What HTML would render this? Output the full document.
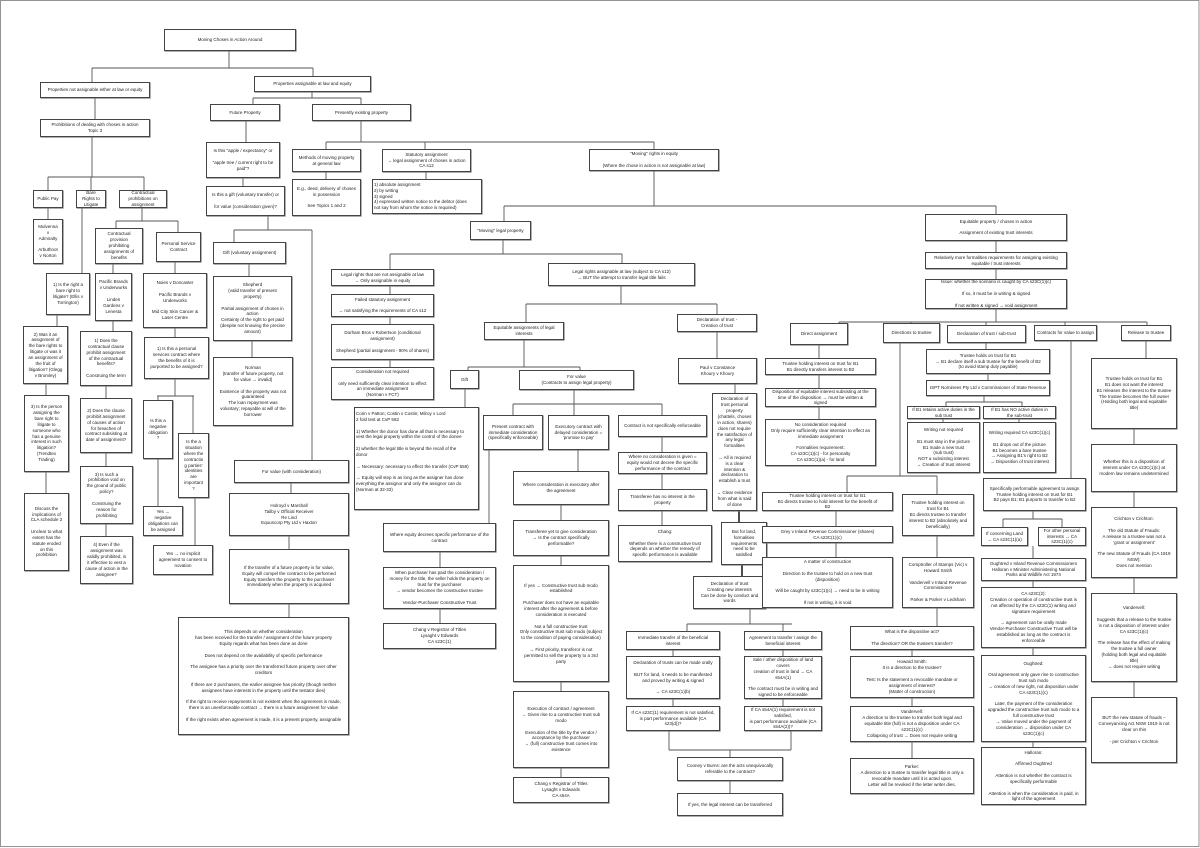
<!DOCTYPE html>
<html><head><meta charset="utf-8"><style>
html,body{margin:0;padding:0;background:#fff}
#c{position:relative;width:1200px;height:848px;overflow:hidden;font-family:"Liberation Sans",sans-serif;background:#fff}
svg{position:absolute;left:0;top:0}
.b{position:absolute;border:1px solid #444;box-sizing:border-box;display:flex;align-items:center;justify-content:center;text-align:center;font-size:4.5px;line-height:1.3;padding:1px;overflow:hidden;background:#fff;color:#222;box-shadow:0.6px 0.6px 0 #777}
</style></head><body><div id="c">
<svg width="1200" height="848" stroke="#555" stroke-width="0.9" fill="none">
<rect x="0.5" y="0.5" width="1198.5" height="846" stroke="#888"/>
<path d="M229 51V68M92 68H313M92 68V82M313 68V76M95 98V119M92 137V177M48 177H144M48 177V190M91 177V190M144 177V190M48 208V219M82 208V273M57 315V326M46 384V395M46 472V493M142 208V221M116 221H178M116 221V228M178 221V232M113 264V273M113 321V331M106 386V398M106 453V466M106 524V536M175 262V273M175 328V337M175 379V396M157 396H194M158 396V400M193 396V433M158 459V506M195 498V545"/>
<path d="M312 92V98M253 98H361M253 98V104M361 98V104M246 121V142M243 178V186M268 216V230M234 230H312M234 230V242M312 230V460M249 264V276M252 341V357M291 483V493M289 536V549M289 604V617"/>
<path d="M361 121V142M326 142H654M326 142V149M425 142V149M654 142V149M326 172V179M426 172V179M654 171V206M504 206H996M504 206V221M996 206V214M996 241V252M996 269V279M503 240V254M390 254H622M622 254V263M390 254V367M621 286V304M526 304H717M526 304V322M717 304V314M524 340V367M468 367H580M468 367V370M580 367V370M465 389V407M574 390V415M513 404H662M513 404V415M662 404V415M489 450V523M440 552V567M440 609V623M578 450V471M561 505V520M561 556V565M561 682V691M561 768V777M662 437V452M662 474V489M662 511V525M717 332V358M735 384V393M750 609V624M687 624H792M687 624V631M783 624V631M673 650V656M673 699V706M783 650V656M783 699V706M669 731V750M791 731V750M669 750H791M730 750V757M730 781V793"/>
<path d="M739 511V522M742 565V576" stroke-width="1.6" stroke="#222"/>
<path d="M996 309V322M839 322H1147M839 322V323M911 322V323M986 322V325M1065 322V325M1147 322V325M819 345V358M819 375V388M819 407V419M900 343V476M847 476H937M847 476V492M937 476V494M836 511V526M836 543V557M937 536V557M937 608V626M912 650V656M912 698V706M912 742V758M986 343V349M988 374V380M984 396V402M946 402H1022M946 402V406M1022 402V406M943 418V422M1019 418V422M1071 341V478M1033 511V519M1003 519H1062M1003 519V527M1062 519V527M1033 546V558M1033 581V587M1033 648V655M1033 742V747M1146 341V358M1134 429V444M1134 492V507M1134 578V593M1134 682V697"/>
</svg>

<div class="b" style="left:164px;top:29px;width:132px;height:22px">Moving Choses in Action Around</div>
<div class="b" style="left:40px;top:82px;width:110px;height:16px">Properties not assignable either at law or equity</div>
<div class="b" style="left:254px;top:76px;width:117px;height:16px">Properties assignable at law and equity</div>
<div class="b" style="left:40px;top:119px;width:110px;height:18px">Prohibitions of dealing with choses in action<br>Topic 3</div>
<div class="b" style="left:210px;top:104px;width:70px;height:17px">Future Property</div>
<div class="b" style="left:312px;top:104px;width:99px;height:17px">Presently existing property</div>
<div class="b" style="left:33px;top:190px;width:30px;height:18px">Public Pay</div>
<div class="b" style="left:76px;top:190px;width:30px;height:18px">Bare<br>Rights to<br>Litigate</div>
<div class="b" style="left:119px;top:190px;width:48px;height:18px">Contractual<br>prohibitions on<br>assignment</div>
<div class="b" style="left:33px;top:219px;width:30px;height:45px">Mulvenna<br>v<br>Admiralty<br><br>Arbuthnot<br>v Norton</div>
<div class="b" style="left:46px;top:273px;width:44px;height:42px">1) Is the right a<br>bare right to<br>litigate? (Ellis v<br>Torrington)</div>
<div class="b" style="left:95px;top:228px;width:48px;height:36px">Contractual<br>provision<br>prohibiting<br>assignments of<br>benefits</div>
<div class="b" style="left:156px;top:232px;width:45px;height:30px">Personal Service<br>Contract</div>
<div class="b" style="left:95px;top:273px;width:37px;height:48px">Pacific Brands<br>v Underworks<br><br>Linden<br>Gardens v<br>Lenesta</div>
<div class="b" style="left:143px;top:273px;width:64px;height:55px">Noies v Doncaster<br><br>Pacific Brands v<br>Underworks<br><br>Mid City Skin Cancer &amp;<br>Laser Centre</div>
<div class="b" style="left:23px;top:326px;width:45px;height:58px">2) Was it an<br>assignment of<br>the bare rights to<br>litigate or was it<br>an assignment of<br>the fruit of<br>litigation? (Glegg<br>v Bromley)</div>
<div class="b" style="left:80px;top:331px;width:52px;height:55px">1) Does the<br>contractual clause<br>prohibit assignment<br>of the contractual<br>benefits?<br><br>Construing the term</div>
<div class="b" style="left:144px;top:337px;width:65px;height:42px">1) Is this a personal<br>services contract where<br>the benefits of it is<br>purported to be assigned?</div>
<div class="b" style="left:24px;top:395px;width:45px;height:77px">3) Is the person<br>assigning the<br>bare right to<br>litigate to<br>someone who<br>has a genuine<br>interest in such<br>litigation?<br>(Trendtex<br>Trading)</div>
<div class="b" style="left:80px;top:398px;width:52px;height:55px">2) Does the clause<br>prohibit assignment<br>of causes of action<br>for breaches of<br>contract subsisting at<br>date of assignment?</div>
<div class="b" style="left:143px;top:400px;width:30px;height:59px">Is this a<br>negative<br>obligation<br>?</div>
<div class="b" style="left:178px;top:433px;width:31px;height:65px">Is the a<br>situation<br>where the<br>contractin<br>g parties'<br>identities<br>are<br>important<br>?</div>
<div class="b" style="left:80px;top:466px;width:53px;height:58px">3) Is such a<br>prohibition void on<br>the ground of public<br>policy?<br><br>Construing the<br>reason for<br>prohibiting</div>
<div class="b" style="left:24px;top:493px;width:45px;height:78px">Discuss the<br>implications of<br>CLA schedule 2<br><br>Unclear to what<br>extent has the<br>statute eroded<br>on this<br>prohibition</div>
<div class="b" style="left:143px;top:506px;width:40px;height:30px">Yes →<br>negative<br>obligations can<br>be assigned</div>
<div class="b" style="left:80px;top:536px;width:53px;height:48px">4) Even if the<br>assignment was<br>validly prohibited, is<br>it effective to vest a<br>cause of action in the<br>assignee?</div>
<div class="b" style="left:153px;top:545px;width:60px;height:30px">Yes → no implicit<br>agreement to consent to<br>novation</div>

<div class="b" style="left:206px;top:142px;width:74px;height:36px">Is this "apple / expectancy" or<br><br>"apple tree / current right to be<br>paid"?</div>
<div class="b" style="left:206px;top:186px;width:79px;height:30px">Is this a gift (voluntary transfer) or<br><br>for value (consideration given)?</div>
<div class="b" style="left:213px;top:242px;width:73px;height:22px">Gift (voluntary assignment)</div>
<div class="b" style="left:213px;top:276px;width:79px;height:65px">Shepherd<br>(valid transfer of present<br>property)<br><br>Partial assignment of choses in<br>action<br>Certainty of the right to get paid<br>(despite not knowing the precise<br>amount)</div>
<div class="b" style="left:213px;top:357px;width:80px;height:69px">Norman<br>(transfer of future property, not<br>for value → invalid)<br><br>Existence of the property was not<br>guaranteed<br>The loan repayment was<br>voluntary; repayable at will of the<br>borrower</div>
<div class="b" style="left:234px;top:460px;width:115px;height:23px">For value (with consideration)</div>
<div class="b" style="left:229px;top:493px;width:120px;height:43px">Holroyd v Marshall<br>Tailby v Official Receiver<br>Re Lind<br>Equuscorp Pty Ltd v Haxton</div>
<div class="b" style="left:229px;top:549px;width:120px;height:55px">If the transfer of a future property is for value,<br>Equity will compel the contract to be performed<br>Equity transfers the property to the purchaser<br>immediately when the property is acquired</div>
<div class="b" style="left:178px;top:617px;width:171px;height:118px">This depends on whether consideration<br>has been received for the transfer / assignment of the future property<br>Equity regards what has been done as done<br><br>Does not depend on the availability of specific performance<br><br>The assignee has a priority over the transferred future property over other<br>creditors<br><br>If there are 2 purchasers, the earlier assignee has priority (though neither<br>assignees have interests in the property until the testator dies)<br><br>If the right to receive repayments is not existent when the agreement is made,<br>there is an unenforceable contract → there is a future assignment for value<br><br>If the right exists when agreement is made, it is a present property, assignable</div>

<div class="b" style="left:292px;top:149px;width:69px;height:23px">Methods of moving property<br>at general law</div>
<div class="b" style="left:382px;top:149px;width:89px;height:23px">Statutory assignment<br>→ legal assignment of choses in action<br>CA s12</div>
<div class="b" style="left:292px;top:179px;width:69px;height:37px">E.g., deed, delivery of choses<br>in possession<br><br>See Topics 1 and 2</div>
<div class="b" style="left:372px;top:179px;width:110px;height:35px;justify-content:flex-start;text-align:left">1) absolute assignment<br>2) by writing<br>3) signed<br>4) expressed written notice to the debtor (does<br>not say from whom the notice is required)</div>
<div class="b" style="left:589px;top:149px;width:130px;height:22px">"Moving" rights in equity<br><br>(Where the chose in action is not assignable at law)</div>
<div class="b" style="left:470px;top:221px;width:61px;height:19px">"Moving" legal property</div>
<div class="b" style="left:331px;top:269px;width:103px;height:17px">Legal rights that are not assignable at law<br>→ Only assignable in equity</div>
<div class="b" style="left:331px;top:294px;width:103px;height:23px">Failed statutory assignment<br><br>→ not satisfying the requirements of CA s12</div>
<div class="b" style="left:331px;top:324px;width:103px;height:36px">Durham Bros v Robertson (conditional<br>assignment)<br><br>Shepherd (partial assignment - 90% of shares)</div>
<div class="b" style="left:331px;top:367px;width:103px;height:33px">Consideration not required<br><br>only need sufficiently clear intention to effect<br>an immediate assignment<br>(Norman v FCT)</div>
<div class="b" style="left:548px;top:263px;width:147px;height:23px">Legal rights assignable at law (subject to CA s12)<br>→ BUT the attempt to transfer legal title fails</div>
<div class="b" style="left:484px;top:322px;width:80px;height:18px">Equitable assignments of legal<br>interests</div>
<div class="b" style="left:677px;top:314px;width:80px;height:18px">Declaration of trust -<br>Creation of trust</div>
<div class="b" style="left:678px;top:358px;width:79px;height:26px">Paul v Constance<br>Khoury v Khoury</div>
<div class="b" style="left:450px;top:370px;width:29px;height:19px">Gift</div>
<div class="b" style="left:519px;top:370px;width:115px;height:20px">For value<br>(Contracts to assign legal property)</div>
<div class="b" style="left:354px;top:407px;width:125px;height:103px;justify-content:flex-start;text-align:left;align-items:flex-start;padding-top:3px">Corin v Patton; Costin v Costin; Milroy v Lord<br>2 fold test at CvP 582<br><br>1) Whether the donor has done all that is necessary to<br>vest the legal property within the control of the donee<br><br>2) whether the legal title is beyond the recall of the<br>donor<br><br>→ Necessary: necessary to effect the transfer (CvP 559)<br><br>→ Equity will step in as long as the assigner has done<br>everything the assignor and only the assignor can do<br>(Norman at 32-33)</div>
<div class="b" style="left:483px;top:415px;width:60px;height:35px">Present contract with<br>immediate consideration<br>(specifically enforceable)</div>
<div class="b" style="left:548px;top:415px;width:61px;height:35px">Executory contract with<br>delayed consideration =<br>'promise to pay'</div>
<div class="b" style="left:618px;top:415px;width:89px;height:22px">Contract is not specifically enforceable</div>
<div class="b" style="left:712px;top:393px;width:45px;height:118px">Declaration of<br>trust personal<br>property<br>(chattels, choses<br>in action, shares)<br>does not require<br>the satisfaction of<br>any legal<br>formalities<br><br>→ All is required<br>is a clear<br>intention &amp;<br>declaration to<br>establish a trust<br><br>→ Clear evidence<br>from what is said<br>of done</div>
<div class="b" style="left:618px;top:452px;width:89px;height:22px">Where no consideration is given =<br>equity would not decree the specific<br>performance of the contract</div>
<div class="b" style="left:618px;top:489px;width:89px;height:22px">Transferee has no interest in the<br>property</div>
<div class="b" style="left:618px;top:525px;width:94px;height:37px">Chang:<br><br>Whether there is a constructive trust<br>depends on whether the remedy of<br>specific performance is available</div>
<div class="b" style="left:721px;top:522px;width:46px;height:43px">But for land,<br>formalities<br>requirements<br>need to be<br>satisfied</div>
<div class="b" style="left:693px;top:576px;width:73px;height:33px">Declaration of trust<br>Creating new interests<br>Can be done by conduct and<br>words</div>
<div class="b" style="left:513px;top:471px;width:96px;height:34px">Where consideration is executory after<br>the agreement</div>
<div class="b" style="left:513px;top:520px;width:96px;height:36px">Transferee yet to give consideration<br>→ Is the contract specifically<br>performable?</div>
<div class="b" style="left:513px;top:565px;width:96px;height:117px">If yes → Constructive trust sub modo<br>established<br><br>Purchaser does not have an equitable<br>interest after the agreement &amp; before<br>consideration is executed<br><br>Not a full constructive trust<br>Only constructive trust sub modo (subject<br>to the condition of paying consideration)<br><br>→ First priority, transferor is not<br>permitted to sell the property to a 3rd<br>party</div>
<div class="b" style="left:513px;top:691px;width:96px;height:77px">Execution of contract / agreement<br>→ Gives rise to a constructive trust sub<br>modo<br><br>Execution of the title by the vendor /<br>acceptance by the purchaser<br>→ (full) constructive trust comes into<br>existence</div>
<div class="b" style="left:513px;top:777px;width:96px;height:26px">Chang v Registrar of Titles<br>Lysaght v Edwards<br>CA s54A</div>
<div class="b" style="left:383px;top:523px;width:113px;height:29px">Where equity decrees specific performance of the<br>contract</div>
<div class="b" style="left:383px;top:567px;width:113px;height:42px">When purchaser has paid the consideration /<br>money for the title, the seller holds the property on<br>trust for the purchaser<br>→ vendor becomes the constructive trustee<br><br>Vendor-Purchaser Constructive Trust</div>
<div class="b" style="left:383px;top:623px;width:113px;height:26px">Chang v Registrar of Titles<br>Lysaght v Edwards<br>CA s23C(1)</div>
<div class="b" style="left:626px;top:631px;width:94px;height:19px">Immediate transfer of the beneficial<br>interest</div>
<div class="b" style="left:626px;top:656px;width:94px;height:43px">Declaration of trusts can be made orally<br><br>BUT for land, it needs to be manifested<br>and proved by writing &amp; signed<br><br>→ CA s23C(1)(b)</div>
<div class="b" style="left:626px;top:706px;width:94px;height:25px">If CA s23C(1) requirement is not satisfied,<br>is part performance available (CA<br>s23(d))?</div>
<div class="b" style="left:744px;top:631px;width:78px;height:19px">Agreement to transfer / assign the<br>beneficial interest</div>
<div class="b" style="left:744px;top:656px;width:78px;height:43px">Sale / other disposition of land covers<br>creation of trust in land → CA s54A(1)<br><br>The contract must be in writing and<br>signed to be enforceable</div>
<div class="b" style="left:744px;top:706px;width:78px;height:25px">If CA s54A(1) requirement is not satisfied,<br>is part performance available (CA<br>s54A(2))?</div>
<div class="b" style="left:677px;top:757px;width:106px;height:24px">Cooney v Burns: are the acts unequivocally<br>referable to the contract?</div>
<div class="b" style="left:677px;top:793px;width:106px;height:23px">If yes, the legal interest can be transferred</div>

<div class="b" style="left:925px;top:214px;width:142px;height:27px">Equitable property / choses in action<br><br>Assignment of existing trust interests</div>
<div class="b" style="left:925px;top:252px;width:142px;height:17px">Relatively more formalities requirements for assigning existing<br>equitable / trust interests</div>
<div class="b" style="left:925px;top:279px;width:142px;height:30px">Issue: whether the scenario is caught by CA s23C(1)(c)<br><br>If so, it must be in writing &amp; signed<br><br>If not written &amp; signed → void assignment</div>
<div class="b" style="left:790px;top:323px;width:58px;height:22px">Direct assignment</div>
<div class="b" style="left:883px;top:323px;width:57px;height:20px">Directions to trustee</div>
<div class="b" style="left:947px;top:325px;width:79px;height:18px">Declaration of trust / sub-trust</div>
<div class="b" style="left:1034px;top:325px;width:63px;height:16px">Contracts for value to assign</div>
<div class="b" style="left:1121px;top:325px;width:50px;height:16px">Release to trustee</div>
<div class="b" style="left:765px;top:358px;width:111px;height:17px">Trustee holding interest on trust for B1<br>B1 directly transfers interest to B2</div>
<div class="b" style="left:765px;top:388px;width:111px;height:19px">Disposition of equitable interest subsisting at the<br>time of the disposition → must be written &amp;<br>signed</div>
<div class="b" style="left:765px;top:419px;width:111px;height:47px">No consideration required<br>Only require sufficiently clear intention to effect an<br>immediate assignment<br><br>Formalities requirement:<br>CA s23C(1)(c) - for personalty<br>CA s23C(1)(a) - for land</div>
<div class="b" style="left:926px;top:349px;width:124px;height:25px">Trustee holds on trust for B1<br>→ B1 declare itself a sub trustee for the benefit of B2<br>(to avoid stamp duty payable)</div>
<div class="b" style="left:926px;top:380px;width:124px;height:16px">ISPT Nominees Pty Ltd v Commissioner of State Revenue</div>
<div class="b" style="left:907px;top:406px;width:73px;height:13px">If B1 retains active duties in the<br>sub trust</div>
<div class="b" style="left:983px;top:406px;width:73px;height:13px">If B1 has NO active duties in<br>the sub-trust</div>
<div class="b" style="left:907px;top:422px;width:73px;height:51px">Writing not required<br><br>B1 must stay in the picture<br>B1 made a new trust<br>(sub trust)<br>NOT a subsisting interest<br>→ Creation of trust interest</div>
<div class="b" style="left:983px;top:422px;width:73px;height:51px">Writing required CA s23C(1)(c)<br><br>B1 drops out of the picture<br>B1 becomes a bare trustee<br>→ Assigning B1's right to B2<br>→ Disposition of trust interest</div>
<div class="b" style="left:1091px;top:358px;width:86px;height:71px">Trustee holds on trust for B1<br>B1 does not want the interest<br>B1 releases the interest to the trustee<br>The trustee becomes the full owner<br>(Holding both legal and equitable<br>title)</div>
<div class="b" style="left:1091px;top:444px;width:86px;height:48px">Whether this is a disposition of<br>interest under CA s23C(1)(c) at<br>modern law remains undetermined</div>
<div class="b" style="left:1091px;top:507px;width:86px;height:71px">Crichton v Crichton:<br><br>The old Statute of Frauds:<br>A release to a trustee was not a<br>'grant or assignment'<br><br>The new Statute of Frauds (CA 1919<br>NSW):<br>Does not mention</div>
<div class="b" style="left:1091px;top:593px;width:86px;height:89px">Vandervell:<br><br>Suggests that a release to the trustee<br>is not a disposition of interest under<br>CA s23C(1)(c)<br><br>The release has the effect of making<br>the trustee a full owner<br>(holding both legal and equitable<br>title)<br>→ does not require writing</div>
<div class="b" style="left:1091px;top:697px;width:86px;height:66px">BUT the new statute of frauds –<br>Conveyancing Act NSW 1919 is not<br>clear on this<br><br>- per Crichton v Crichton</div>
<div class="b" style="left:983px;top:478px;width:103px;height:33px">Specifically performable agreement to assign<br>Trustee holding interest on trust for B1<br>B2 pays B1; B1 purports to transfer to B2</div>
<div class="b" style="left:981px;top:527px;width:47px;height:19px">If concerning Land<br>→ CA s23C(1)(a)</div>
<div class="b" style="left:1038px;top:527px;width:48px;height:19px">For other personal<br>interests → CA<br>s23C(1)(c)</div>
<div class="b" style="left:981px;top:558px;width:105px;height:23px">Oughtred v Inland Revenue Commissioners<br>Halloran v Minister Administering National<br>Parks and Wildlife Act 1974</div>
<div class="b" style="left:981px;top:587px;width:105px;height:61px">CA s23C(2):<br>Creation or operation of constructive trust is<br>not affected by the CA s23C(1) writing and<br>signature requirement<br><br>→ agreement can be orally made<br>Vendor-Purchaser Constructive Trust will be<br>established as long as the contract is<br>enforceable</div>
<div class="b" style="left:981px;top:655px;width:105px;height:87px">Oughtred:<br><br>Oral agreement only gave rise to constructive<br>trust sub modo<br>→ creation of new right, not disposition under<br>CA s23C(1)(c)<br><br>Later, the payment of the consideration<br>upgraded the constructive trust sub modo to a<br>full constructive trust<br>→ Value moved under the payment of<br>consideration → disposition under CA<br>s23C(1)(c)</div>
<div class="b" style="left:981px;top:747px;width:105px;height:58px">Halloran:<br><br>Affirmed Oughtred<br><br>Attention is not whether the contract is<br>specifically performable<br><br>Attention is when the consideration is paid, in<br>light of the agreement</div>
<div class="b" style="left:762px;top:492px;width:131px;height:19px">Trustee holding interest on trust for B1<br>B1 directs trustee to hold interest for the benefit of<br>B2</div>
<div class="b" style="left:902px;top:494px;width:72px;height:42px">Trustee holding interest on<br>trust for B1<br>B1 directs trustee to transfer<br>interest to B2 (absolutely and<br>beneficially)</div>
<div class="b" style="left:762px;top:526px;width:131px;height:17px">Grey v Inland Revenue Commissioner (shares)<br>CA s23C(1)(c)</div>
<div class="b" style="left:762px;top:557px;width:131px;height:51px">A matter of construction<br><br>Direction to the trustee to hold on a new trust<br>(disposition)<br><br>Will be caught by s23C(1)(c) → need to be in writing<br><br>If not in writing, it is void</div>
<div class="b" style="left:902px;top:557px;width:72px;height:51px">Comptroller of Stamps (Vic) v<br>Howard Smith<br><br>Vandervell v Inland Revenue<br>Commissioner<br><br>Parker &amp; Parker v Ledsham</div>
<div class="b" style="left:850px;top:626px;width:124px;height:24px">What is the dispositive act?<br><br>The direction? OR the trustee's transfer?</div>
<div class="b" style="left:850px;top:656px;width:124px;height:42px">Howard Smith:<br>It is a direction to the trustee?<br><br>Test: Is the statement a revocable mandate or<br>assignment of interest?<br>(Matter of construction)</div>
<div class="b" style="left:850px;top:706px;width:124px;height:36px">Vandervell:<br>A direction to the trustee to transfer both legal and<br>equitable title (full) is not a disposition under CA<br>s23C(1)(c)<br>Collapsing of trust → Does not require writing</div>
<div class="b" style="left:850px;top:758px;width:124px;height:36px">Parker:<br>A direction to a trustee to transfer legal title is only a<br>revocable mandate until it is acted upon.<br>Letter will be revoked if the letter writer dies.</div>
</div></body></html>
